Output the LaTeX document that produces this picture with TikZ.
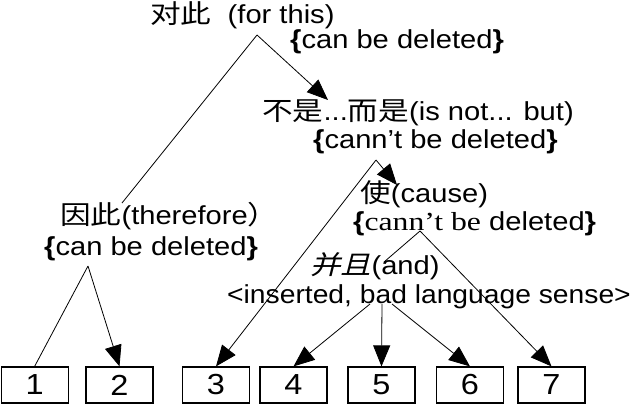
\documentclass[tikz,border=0pt]{standalone}
\usepackage{graphicx}
\usepackage{fontspec}
\setmainfont{Liberation Sans}[FakeStretch=1.12]
\newfontfamily\cjk{Noto Sans CJK SC}[FakeStretch=1.18]
\newfontfamily\cjkit{Noto Sans CJK SC}[FakeStretch=1.18,FakeSlant=0.25]
\newfontfamily\srf{Liberation Serif}[FakeStretch=1.22]
\usetikzlibrary{arrows.meta}
\begin{document}
\begin{tikzpicture}[x=1pt,y=-1pt,
  lbl/.style={anchor=base west,inner sep=0pt,font=\fontsize{26}{31}\selectfont},
  numbox/.style={draw,line width=1.2pt,minimum width=67pt,minimum height=36pt,inner sep=0pt,font=\fontsize{29}{33}\selectfont},
  ln/.style={line width=0.8pt},
  arr/.style={ln,-{Triangle[length=21pt,width=17pt]}}]
\useasboundingbox (0,0) rectangle (634,407);

% boxes
\node[numbox] (b1) at (34.6,385) {1};
\node[numbox] (b2) at (119.5,385) {2};
\node[numbox] (b3) at (216,385) {3};
\node[numbox] (b4) at (293.5,385) {4};
\node[numbox] (b5) at (381.5,385) {5};
\node[numbox] (b6) at (470,385) {6};
\node[numbox] (b7) at (551.5,385) {7};

% labels
\node[lbl] (t0) at (150,23) {{\cjk 对此}\ \ (for this)};
\node[lbl] (t0b) at (290,48) {\textbf{\{}can be deleted\textbf{\}}};
\node[lbl] (t1) at (262,120) {{\cjk 不是}...{\cjk 而是}(is not... but)};
\node[lbl] (t1b) at (313,148) {\textbf{\{}cann’t be deleted\textbf{\}}};
\node[lbl] (t2) at (360,202) {{\cjk 使}(cause)};
\node[lbl] (t2b) at (353,230) {\textbf{\{}{\srf cann’t be} deleted\textbf{\}}};
\node[lbl] (t3) at (60,224) {{\cjk 因此}(therefore{\cjk ）}};
\node[lbl] (t3b) at (44,255) {\textbf{\{}can be deleted\textbf{\}}};
\node[lbl] (t4) at (310,274) {{\cjkit 并且}(and)};
\node[lbl] (t4b) at (227,303) {\scalebox{0.97}[1]{<inserted, bad language sense>}};

% connection points
\coordinate (a0) at (257,35);
\coordinate (e0) at (122,203);
\coordinate (p1) at (328,100);
\coordinate (a1) at (376,160);
\coordinate (p2) at (397,185);
\coordinate (a2) at (420,231);
\coordinate (e2) at (384,262);
\coordinate (a3) at (88,266);
\coordinate (i4) at (370,304);
\coordinate (i5) at (382,304);
\coordinate (i6) at (392,304);

% connectors
\draw[ln] (a0) -- (e0);
\draw[arr] (a0) -- (p1);
\draw[arr] (a1) -- (p2);
\draw[arr] (a1) -- (b3.north);
\draw[ln] (a2) -- (e2);
\draw[arr] (a2) -- (b7.north);
\draw[arr] (i4) -- (b4.north);
\draw[arr] (i5) -- (b5.north);
\draw[arr] (i6) -- (b6.north);
\draw[ln] (a3) -- (b1.north);
\draw[arr] (a3) -- (b2.north);
\end{tikzpicture}
\end{document}
